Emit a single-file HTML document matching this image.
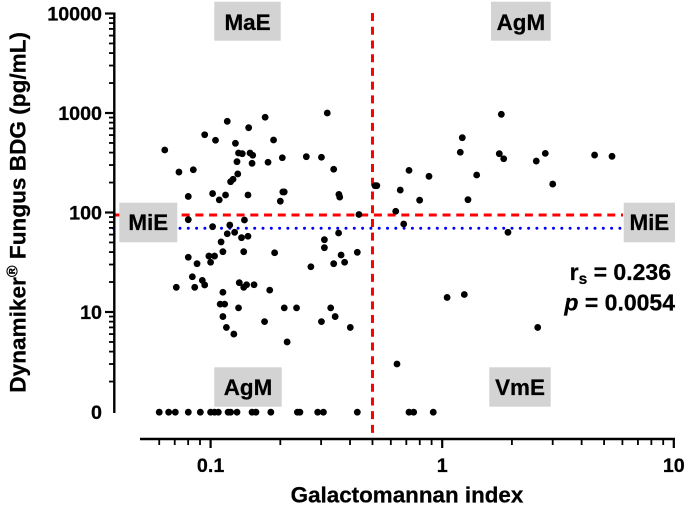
<!DOCTYPE html>
<html lang="en">
<head>
<meta charset="utf-8">
<title>Dynamiker Fungus BDG vs Galactomannan index</title>
<style>
html,body{margin:0;padding:0;background:#fff;width:685px;height:511px;overflow:hidden}
svg{display:block}
text{font-family:"Liberation Sans",Arial,sans-serif;font-weight:bold;fill:#000;stroke:#000;stroke-width:0.25px}
</style>
</head>
<body>
<svg id="chart" xmlns="http://www.w3.org/2000/svg" width="685" height="511" viewBox="0 0 685 511">
  <g id="ref-lines"></g>
  <g id="axes"></g>
  <g id="points"></g>
  <g id="boxes"></g>
  <text x="407" y="502.5" font-size="22.4" text-anchor="middle">Galactomannan index</text>
  <text transform="translate(25.3 212.3) rotate(-90)" font-size="22.6" text-anchor="middle">Dynamiker<tspan font-size="16" dy="-8">®</tspan><tspan dy="8"> Fungus BDG (pg/mL)</tspan></text>
  <text x="671" y="280" font-size="23" text-anchor="end">r<tspan font-size="15.5" dy="4">s</tspan><tspan dy="-4"> = 0.236</tspan></text>
  <text x="675" y="310.7" font-size="23" text-anchor="end"><tspan font-style="italic">p</tspan> = 0.0054</text>
</svg>
<script>
const gmIndex = [
  0.0634,0.0730,0.0842,0.0801,0.0943,0.105,0.118,0.146,0.172,0.187,
  0.128,0.132,0.137,0.148,0.152,0.130,0.151,0.177,0.204,0.259,
  0.301,0.340,0.319,0.131,0.125,0.122,0.102,0.109,0.116,0.145,
  0.205,0.208,0.200,0.358,0.361,0.0801,0.140,0.102,0.121,0.118,
  0.127,0.136,0.145,0.111,0.113,0.139,0.0983,0.104,0.100,0.0801,
  0.0874,0.0834,0.0921,0.0943,0.0711,0.0854,0.113,0.133,0.139,0.143,
  0.154,0.180,0.110,0.115,0.132,0.113,0.171,0.117,0.126,0.357,
  0.310,0.310,0.189,0.430,0.366,0.340,0.379,0.271,0.208,0.235,
  0.330,0.345,0.301,0.401,0.214,0.437,0.513,0.522,0.719,0.659,
  0.799,0.877,0.630,0.682,1.197,1.221,1.409,1.292,1.80,1.764,
  1.843,1.923,2.548,2.787,3.00,4.55,5.41,1.05,1.246,2.585,
  0.638,
  0.0600,0.0659,0.0704,0.0801,0.0903,0.100,0.104,0.108,0.119,0.122,
  0.130,0.151,0.157,0.182,0.237,0.243,0.290,0.307,0.430,0.719,
  0.753,0.915
];
const bdgValues = [
  425,255,269,145,605,532,825,712,906,535,
  496,396,390,396,376,324,312,320,355,364,
  359,272,1000,244,216,204,155,134,150,150,
  161,161,130,152,143,84.7,84.1,72.0,74.8,61.2,
  63.2,55.8,57.7,50.6,40.4,40.4,36.5,36.5,31.6,35.5,
  30.6,22.6,20.8,18.7,17.7,17.7,15.8,19.7,17.7,18.8,
  18.8,16.6,12,12,11,9,8,7,6,62.2,
  53.3,44.3,39.4,39.8,37.4,30.6,31.6,28.5,11,11,
  11,9,8,7,5,95.5,186,186,265,168,
  133,231,103,76.6,403,565,238,134.5,970,390,
  347,63.2,329,393,193,378,367,14,15,7,
  3,
  0,0,0,0,0,0,0,0,0,0,
  0,0,0,0,0,0,0,0,0,0,
  0,0
];
const yTickValues = [10, 100, 1000, 10000];
const yTickLabels = ["10", "100", "1000", "10000"];
const yMinorValues = [2,3,4,5,6,7,8,9,20,30,40,50,60,70,80,90,200,300,400,500,600,700,800,900,2000,3000,4000,5000,6000,7000,8000,9000];
const xTickValues = [0.1, 1, 10];
const xTickLabels = ["0.1", "1", "10"];
const xMinorValues = [0.06,0.07,0.08,0.09,0.2,0.3,0.4,0.5,0.6,0.7,0.8,0.9,2,3,4,5,6,7,8,9];
const gmCutoff = [0.5];
const bdgCutoff = [94.4];
const bdgDottedCutoff = [69.4];

const NS = "http://www.w3.org/2000/svg";
function xScale(v){ return 442.2 + 231.6 * Math.log10(v); }
function yScale(v){ return v <= 0 ? 412.2 : 411.5 - 99.5 * Math.log10(v); }
function make(tag, attrs, parent){
  const el = document.createElementNS(NS, tag);
  for (const k in attrs) el.setAttribute(k, attrs[k]);
  parent.appendChild(el);
  return el;
}
const axes = document.getElementById("axes");
const refs = document.getElementById("ref-lines");
const pts = document.getElementById("points");
const boxes = document.getElementById("boxes");

// threshold lines
const vLine = make("line", {x1:xScale(gmCutoff[0]), x2:xScale(gmCutoff[0]), y1:13, y2:435, stroke:"#ff0000", "stroke-width":3, "stroke-dasharray":"8 5.73"}, refs);


const hLine = make("line", {x1:113, x2:623, y1:yScale(bdgCutoff[0]), y2:yScale(bdgCutoff[0]), stroke:"#ff0000", "stroke-width":3, "stroke-dasharray":"8 5.73"}, refs);


const dLine = make("line", {x1:113.6, x2:621, y1:yScale(bdgDottedCutoff[0]), y2:yScale(bdgDottedCutoff[0]), stroke:"#0000ff", "stroke-width":3, "stroke-linecap":"round", "stroke-dasharray":"0 8.3"}, refs);



// y axis
const yLine = make("line", {x1:114.3, x2:114.3, y1:12.5, y2:413, stroke:"#000", "stroke-width":2.4}, axes);


yTickValues.forEach(function(v, i){
  const t = make("line", {x1:105, x2:114.3, y1:yScale(v), y2:yScale(v), stroke:"#000", "stroke-width":2.2}, axes);
  
  
  const l = make("text", {x:102, y:yScale(v)+7, "font-size":19.7, "text-anchor":"end"}, axes);
  l.textContent = yTickLabels[i];
  
  
});
yMinorValues.forEach(function(v){
  const t = make("line", {x1:109, x2:114.3, y1:yScale(v), y2:yScale(v), stroke:"#000", "stroke-width":1.8}, axes);
  
  
});
const zeroLabel = make("text", {x:102, y:yScale(0)+7, "font-size":19.7, "text-anchor":"end"}, axes);
zeroLabel.textContent = "0";



// x axis
const xLine = make("line", {x1:140, x2:675, y1:439, y2:439, stroke:"#000", "stroke-width":2.4}, axes);


xTickValues.forEach(function(v, i){
  const t = make("line", {x1:xScale(v), x2:xScale(v), y1:439, y2:448, stroke:"#000", "stroke-width":2.2}, axes);
  
  
  const l = make("text", {x:xScale(v), y:472, "font-size":19.7, "text-anchor":"middle"}, axes);
  l.textContent = xTickLabels[i];
  
  
});
xMinorValues.forEach(function(v){
  const t = make("line", {x1:xScale(v), x2:xScale(v), y1:439, y2:445, stroke:"#000", "stroke-width":1.8}, axes);
  
  
});

// points
gmIndex.forEach(function(gm, i){
  const c = make("circle", {cx:xScale(gm), cy:yScale(bdgValues[i]), r:3.4, fill:"#000"}, pts);
  
  
});

// quadrant label boxes
const labelText = ["MaE", "AgM", "MiE", "MiE", "AgM", "VmE"];
const labelNames = ["mae-label", "agm-top-label", "mie-left-label", "mie-right-label", "agm-bottom-label", "vme-label"];
const labelBoxes = [
  [214.3, 1.7, 66.4, 39, 30],
  [491, 1.7, 59.7, 39, 30],
  [119.3, 202.7, 58, 39.6, 230],
  [623.7, 202.7, 51.3, 39.6, 230],
  [214.3, 367.3, 67.4, 39.4, 395],
  [489.3, 367.3, 61.4, 39.4, 395]
];
labelBoxes.forEach(function(b, i){
  const r = make("rect", {x:b[0], y:b[1], width:b[2], height:b[3], fill:"#d3d3d3"}, boxes);
  
  
  const t = make("text", {x:b[0]+b[2]/2, y:b[4], "font-size":22.4, "text-anchor":"middle"}, boxes);
  t.textContent = labelText[i];
  
  
});
</script>
</body>
</html>
